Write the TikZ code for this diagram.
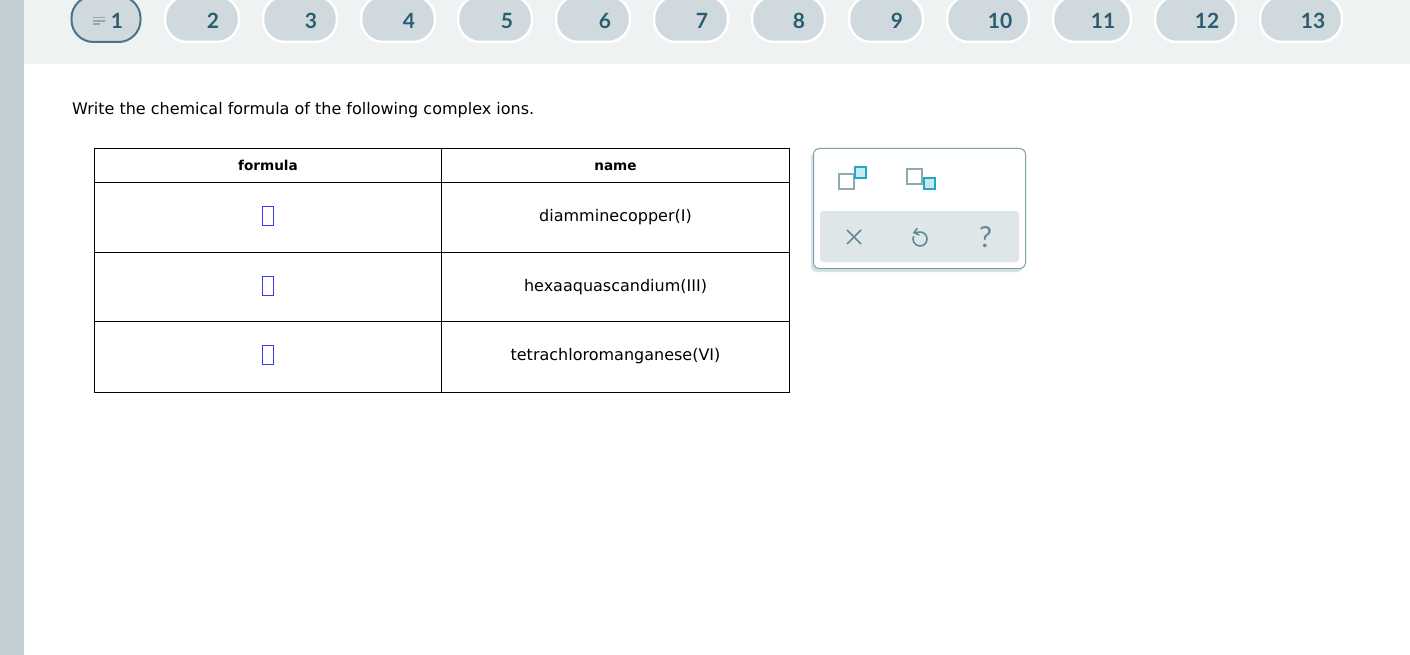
\documentclass[tikz,border=0pt]{standalone}
\usepackage{fontspec}
\setmainfont{DejaVu Sans}
\newfontfamily\pillfont{Lato}
\usetikzlibrary{shadows}
\definecolor{sidebar}{HTML}{C2D0D6}
\definecolor{topband}{HTML}{EEF2F3}
\definecolor{pillfill}{HTML}{D0DADE}
\definecolor{pillink}{HTML}{2A5D73}
\definecolor{panelline}{HTML}{7F9FA8}
\definecolor{panelfill}{HTML}{DFE6E8}
\definecolor{iconline}{HTML}{5F8A96}
\definecolor{slotline}{HTML}{8FA9B0}
\definecolor{slotcyan}{HTML}{1FA9C4}
\definecolor{slotfill}{HTML}{C6E8EF}
\definecolor{inputblue}{HTML}{3A3AF0}
\begin{document}
\begin{tikzpicture}[x=1pt,y=-1pt]
    \tikzset{pill/.style = {shape=rectangle,rounded corners=22pt,draw=white,line width=2.5pt,fill=pillfill,minimum height=46pt,inner sep=0pt}}
    \tikzset{pillnum/.style = {text=pillink,font=\pillfont\bfseries\fontsize{21}{21}\selectfont,inner sep=0pt}}
    \tikzset{cell/.style = {shape=rectangle,draw=black,line width=1pt,inner sep=0pt}}
    \tikzset{celltext/.style = {anchor=base,inner sep=0pt,font=\fontsize{16}{16}\selectfont}}
    \tikzset{headtext/.style = {anchor=base,inner sep=0pt,font=\bfseries\fontsize{13.6}{14}\selectfont}}
    \tikzset{slot/.style = {shape=rectangle,draw=inputblue,line width=1.4pt,minimum width=11.5pt,minimum height=19pt,inner sep=0pt}}
    \tikzset{bigslot/.style = {shape=rectangle,draw=slotline,line width=2pt,fill=white,minimum size=15pt,inner sep=0pt}}
    \tikzset{smallslot/.style = {shape=rectangle,draw=slotcyan,line width=2pt,fill=slotfill,minimum size=11pt,inner sep=0pt}}
    \useasboundingbox (0,0) rectangle (1410,655);
    \clip (0,0) rectangle (1410,655);
    \fill[white] (0,0) rectangle (1410,655);
    % page bands
    \fill[sidebar] (0,0) rectangle (24,655);
    \fill[topband] (24,0) rectangle (1410,64);
    % question tabs
    \node[pill,draw=pillink!85!white,line width=2pt,minimum width=69pt] (p1) at (106,19) {};
    \node[pillnum] (n1) at (117,21) {1};
    \draw[slotline,line width=1.8pt] (93,17.5) -- (105,17.5) (93,20.8) -- (105,20.8) (93,24) -- (100,24);
    \foreach \lab/\cx/\pw/\tx in {2/202/74/213,3/300/74/311,4/398/74/409,5/495/74/507,6/593/74/605,7/691/74/702,8/788.5/73/799,9/886/74/897,10/988/82/1000,11/1092/78/1103,12/1195.5/81/1207,13/1301/82/1313}
    {
        \node[pill,minimum width=\pw pt] (p\lab) at (\cx,19) {};
        \node[pillnum] (n\lab) at (\tx,21) {\lab};
    }
    % question
    \node[celltext,anchor=base west] (question) at (72,115) {Write the chemical formula of the following complex ions.};
    % table
    \node[cell,minimum width=347pt,minimum height=34pt] (head1) at (268,165.5) {};
    \node[cell,minimum width=348pt,minimum height=34pt] (head2) at (615.5,165.5) {};
    \node[cell,minimum width=347pt,minimum height=70pt] (f1) at (268,217.5) {};
    \node[cell,minimum width=348pt,minimum height=70pt] (m1) at (615.5,217.5) {};
    \node[cell,minimum width=347pt,minimum height=69pt] (f2) at (268,287) {};
    \node[cell,minimum width=348pt,minimum height=69pt] (m2) at (615.5,287) {};
    \node[cell,minimum width=347pt,minimum height=71pt] (f3) at (268,357) {};
    \node[cell,minimum width=348pt,minimum height=71pt] (m3) at (615.5,357) {};
    \node[headtext] (formulahead) at (268,171) {formula};
    \node[headtext] (namehead) at (615.5,171) {name};
    \node[celltext] (name1) at (615.5,222) {diamminecopper(I)};
    \node[celltext] (name2) at (615.5,291) {hexaaquascandium(III)};
    \node[celltext] (name3) at (615.5,360) {tetrachloromanganese(VI)};
    \node[slot] (s1) at (268,216) {};
    \node[slot] (s2) at (268,286) {};
    \node[slot] (s3) at (268,355) {};
    % tool panel
    \node[shape=rectangle,draw=panelline,line width=1pt,fill=white,rounded corners=6pt,minimum width=212pt,minimum height=120pt,drop shadow={shadow xshift=-2.5pt,shadow yshift=-3.5pt,opacity=.3,fill=panelline}] (panel) at (919.5,208.5) {};
    \node[shape=rectangle,fill=panelfill,rounded corners=3pt,minimum width=199pt,minimum height=51pt,inner sep=0pt] (toolbar) at (919.5,236.5) {};
    \node[bigslot] (supbase) at (846,182) {};
    \node[smallslot] (supexp) at (860.5,173) {};
    \node[bigslot] (subbase) at (914,176.5) {};
    \node[smallslot] (subexp) at (929,183.5) {};
    % tool icons
    \coordinate (crossa) at (847,230);
    \coordinate (crossb) at (861,244);
    \coordinate (crossc) at (861,230);
    \coordinate (crossd) at (847,244);
    \draw[iconline,line width=1.6pt] (crossa) -- (crossb) (crossc) -- (crossd);
    \draw[iconline,line width=1.6pt] (914,232.7) -- (920,232) arc[start angle=-90,end angle=205,radius=7];
    \draw[iconline,line width=1.6pt] (917.3,228.3) -- (914,232.7) -- (919.3,235);
    \node[text=iconline,inner sep=0pt,font=\pillfont\fontsize{29}{29}\selectfont] (help) at (985.5,237) {?};
\end{tikzpicture}
\end{document}
